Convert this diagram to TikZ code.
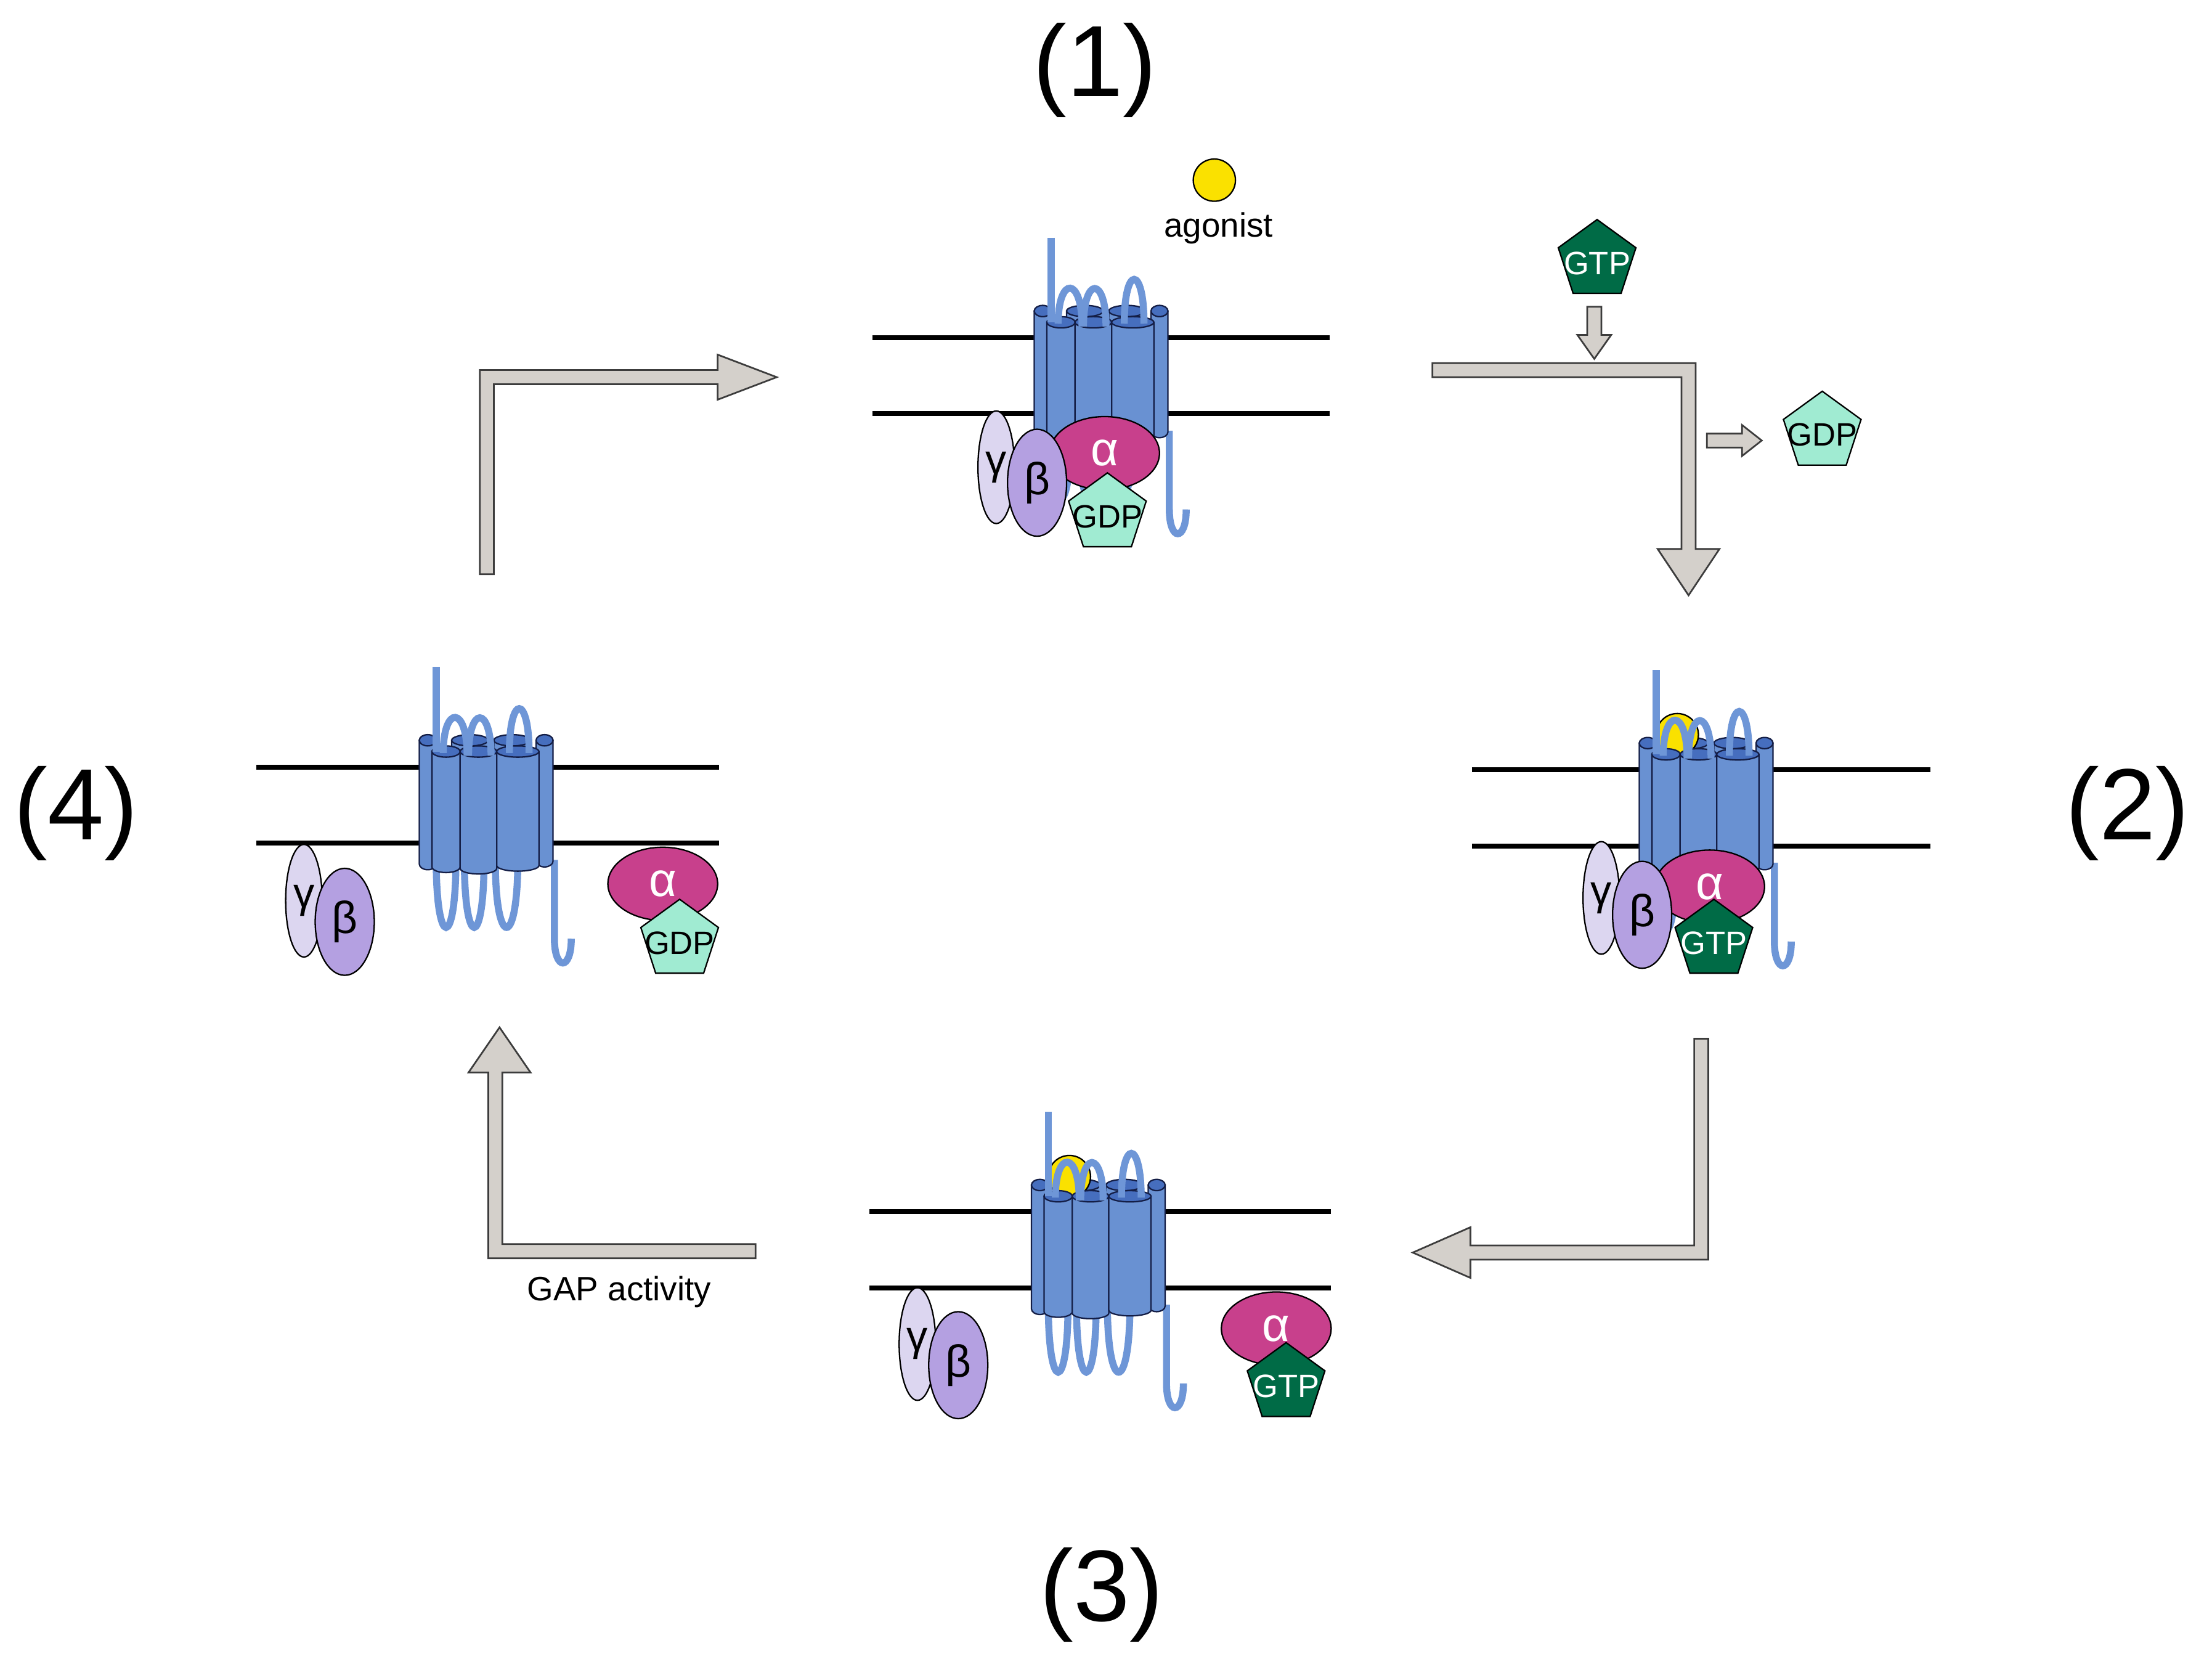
\documentclass[tikz,border=0pt]{standalone}
\usepackage{fontspec}
\setmainfont{Liberation Sans}
\usetikzlibrary{shapes.geometric}
\definecolor{loopc}{RGB}{110,150,215}
\definecolor{cylf}{RGB}{105,145,210}
\definecolor{cylt}{RGB}{70,110,190}
\definecolor{cyld}{RGB}{20,30,70}
\definecolor{alphac}{RGB}{200,64,140}
\definecolor{betac}{RGB}{180,160,225}
\definecolor{gammac}{RGB}{220,214,240}
\definecolor{gdpc}{RGB}{160,235,210}
\definecolor{gtpc}{RGB}{0,107,70}
\definecolor{agoc}{RGB}{250,225,0}
\definecolor{arrc}{RGB}{212,208,203}
\definecolor{arrd}{RGB}{60,60,60}
\tikzset{
 memb/.style={line width=3.5pt,black},
 lp/.style={line width=5pt,loopc},
 cyl/.style={fill=cylf,draw=cyld,line width=1pt},
 cyltop/.style={fill=cylt,draw=cyld,line width=1pt},
 gam/.style={ellipse,draw=black,line width=1pt,fill=gammac,minimum width=26pt,minimum height=80pt,inner sep=0pt,font=\fontsize{30}{30}\selectfont},
 bet/.style={ellipse,draw=black,line width=1pt,fill=betac,minimum width=42pt,minimum height=76pt,inner sep=0pt,font=\fontsize{32}{32}\selectfont},
 alp/.style={ellipse,draw=black,line width=1pt,fill=alphac,minimum width=78pt,minimum height=52pt,inner sep=0pt,text=white,font=\fontsize{34}{34}\selectfont},
 pent/.style={regular polygon,regular polygon sides=5,draw=black,line width=1pt,minimum size=58pt,inner sep=0pt},
 gdp/.style={pent,fill=gdpc},
 gtp/.style={pent,fill=gtpc},
 gdpt/.style={inner sep=0pt,font=\fontsize{23}{23}\selectfont,yshift=-2pt},
 gtpt/.style={inner sep=0pt,text=white,font=\fontsize{23}{23}\selectfont,yshift=-2pt},
 ago/.style={circle,draw=black,line width=1pt,fill=agoc,inner sep=0pt},
 blk/.style={fill=arrc,draw=arrd,line width=1.2pt},
 num/.style={font=\fontsize{72}{72}\selectfont},
 lab/.style={font=\fontsize{24}{24}\selectfont},
}
\newcommand\mycyl[4]{%
 \path[cyl] ({#1-#2},#3) -- ({#1-#2},#4) arc[x radius=#2, y radius=4, start angle=180, end angle=0] -- ({#1+#2},#3) -- cycle;
 \path[cyltop] (#1,#3) ellipse[x radius=#2, y radius=4];}
\newcommand\mygpcr[4]{%
\begin{scope}[shift={(#2,#3)}]
 \draw[lp] (-36,66) .. controls (-36,130) and (-22,130) .. (-22,66);
 \draw[lp] (-16,66) .. controls (-16,130) and (-2,130) .. (-2,66);
 \draw[lp] (6,66) .. controls (6,130) and (22,130) .. (22,66);
 \draw[lp] (48,66) -- (48,122) .. controls (48,145) and (60,145) .. (60,122);
 \mycyl{-42}{6}{-19}{69}
 \mycyl{-12}{13}{-19}{62}
 \mycyl{18}{13}{-19}{62}
 \mycyl{41}{6}{-19}{67}
 \ifnum#4=1 \node[ago,minimum size=30pt] (#1ago) at (-21,-25) {};\fi
 \mycyl{-29}{10}{-11}{71}
 \mycyl{-6}{13}{-11}{72}
 \mycyl{22}{15}{-11}{70}
 \draw[lp] (-36,-71) -- (-36,-11);
 \draw[lp] (-31,-10) .. controls (-31,-44) and (-14,-44) .. (-14,-8);
 \draw[lp] (-13,-8) .. controls (-13,-44) and (3,-44) .. (3,-8);
 \draw[lp] (16,-10) .. controls (16,-52) and (30,-52) .. (30,-10);
 \coordinate (#1) at (0,0);
\end{scope}}
\begin{document}
\begin{tikzpicture}[x=1pt,y=-1pt]
\useasboundingbox[fill=white] (0,0) rectangle (1572,1190);
\draw[memb] (620,240) -- (945,240); \draw[memb] (620,294) -- (945,294);
\draw[memb] (1046,547) -- (1372,547); \draw[memb] (1046,601) -- (1372,601);
\draw[memb] (618,861) -- (946,861); \draw[memb] (618,915) -- (946,915);
\draw[memb] (182,545) -- (511,545); \draw[memb] (182,599) -- (511,599);
% state 1
\mygpcr{r1}{783}{240}{0}
\node[gam] (g1) at (708,332) {γ};
\node[alp] (a1) at (785,322) {α};
\node[bet] (b1) at (737,343) {β};
\node[gdp] (n1) at (787,365) {}; \node[gdpt] (n1t) at (n1.center) {GDP};
\node[ago,minimum size=30pt] (ago) at (863,128) {};
\node[lab] (agol) at (866,162) {agonist};
% state 2
\mygpcr{r2}{1213}{547}{1}
\node[gam] (g2) at (1138,638) {γ};
\node[alp] (a2) at (1215,630) {α};
\node[bet] (b2) at (1167,650) {β};
\node[gtp] (n2) at (1218,668) {}; \node[gtpt] (n2t) at (n2.center) {GTP};
% state 3
\mygpcr{r3}{781}{861}{1}
\node[gam] (g3) at (652,955) {γ};
\node[bet] (b3) at (681,970) {β};
\node[alp] (a3) at (907,944) {α};
\node[gtp] (n3) at (914,983) {}; \node[gtpt] (n3t) at (n3.center) {GTP};
% state 4
\mygpcr{r4}{346}{545}{0}
\node[gam] (g4) at (216,640) {γ};
\node[bet] (b4) at (245,655) {β};
\node[alp] (a4) at (471,628) {α};
\node[gdp] (n4) at (483,668) {}; \node[gdpt] (n4t) at (n4.center) {GDP};
% free nucleotides
\node[gtp] (gtpin) at (1135,185) {}; \node[gtpt] (gtpint) at (gtpin.center) {GTP};
\node[gdp] (gdpout) at (1295,307) {}; \node[gdpt] (gdpoutt) at (gdpout.center) {GDP};
% arrows
\path[blk] (341,408)--(341,263)--(510,263)--(510,252)--(552,268)--(510,284)--(510,273)--(351,273)--(351,408)--cycle;
\path[blk] (1018,258)--(1205,258)--(1205,390)--(1222,390)--(1200,423)--(1178,390)--(1195,390)--(1195,268)--(1018,268)--cycle;
\path[blk] (1128,218)--(1138,218)--(1138,238)--(1145,238)--(1133,255)--(1121,238)--(1128,238)--cycle;
\path[blk] (1213,308)--(1238,308)--(1238,302)--(1252,313)--(1238,324)--(1238,318)--(1213,318)--cycle;
\path[blk] (1204,738)--(1214,738)--(1214,895)--(1045,895)--(1045,908)--(1004,890)--(1045,872)--(1045,885)--(1204,885)--cycle;
\path[blk] (537,884)--(537,894)--(347,894)--(347,762)--(333,762)--(355,730)--(377,762)--(357,762)--(357,884)--cycle;
\node[lab] (gap) at (440,918) {GAP activity};
\node[num] (l1) at (778,50) {(1)};
\node[num] (l2) at (1512,578) {(2)};
\node[num] (l3) at (783,1133) {(3)};
\node[num] (l4) at (54,578) {(4)};
\end{tikzpicture}
\end{document}
